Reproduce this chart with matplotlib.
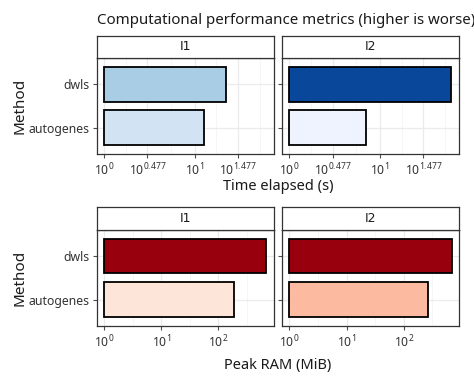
import matplotlib
matplotlib.use("Agg")
import matplotlib.pyplot as plt
import numpy as np

plt.rcParams['font.family'] = ['Noto Sans', 'DejaVu Sans']
plt.rcParams['mathtext.fontset'] = 'custom'
plt.rcParams['mathtext.rm'] = 'Noto Sans'
plt.rcParams['mathtext.it'] = 'Noto Sans'
plt.rcParams['mathtext.default'] = 'regular'

methods = ["autogenes", "dwls"]
facets = ["I1", "I2"]
time_s = {"I1": [12.6, 22.0], "I2": [7.0, 61.0]}
ram_mib = {"I1": [186.0, 690.0], "I2": [260.0, 705.0]}
time_colors = {"I1": ["#d2e3f3", "#a8cde4"], "I2": ["#eff3ff", "#08479a"]}
ram_colors = {"I1": ["#fee5d9", "#99000d"], "I2": ["#fcbba1", "#99000d"]}
time_ticks = [1, 3, 10, 30]
time_labels = [r"$10^{0}$", r"$10^{0.477}$", r"$10^{1}$", r"$10^{1.477}$"]
ram_ticks = [1, 10, 100]
ram_labels = [r"$10^{0}$", r"$10^{1}$", r"$10^{2}$"]

W, H = 474, 379
fig = plt.figure(figsize=(W / 100, H / 100), dpi=100)

def px(x0, y0, x1, y1):
    return [x0 / W, 1 - y1 / H, (x1 - x0) / W, (y1 - y0) / H]

panel_x = [(96.7, 273.7), (281.7, 459.3)]
rows = [
    dict(strip=(35.7, 58.0), panel=(58.0, 153.7), data=time_s, colors=time_colors,
         ticks=time_ticks, labels=time_labels, xlim=(-0.084, 1.872), xlabel="Time elapsed (s)", xly=186),
    dict(strip=(207.3, 230.0), panel=(230.0, 325.7), data=ram_mib, colors=ram_colors,
         ticks=ram_ticks, labels=ram_labels, xlim=(-0.133, 2.97), xlabel="Peak RAM (MiB)", xly=366),
]

edge = "#333333"
for r in rows:
    for j, f in enumerate(facets):
        x0, x1 = panel_x[j]
        ax = fig.add_axes(px(x0, r["panel"][0], x1, r["panel"][1]))
        ax.set_xscale("log")
        ax.set_xlim(10 ** r["xlim"][0], 10 ** r["xlim"][1])
        ax.set_ylim(0.4, 2.6)
        ypos = np.arange(1, len(methods) + 1)
        vals = np.array(r["data"][f])
        ax.barh(ypos, vals - 1, left=1, height=0.8, color=r["colors"][f],
                edgecolor="black", linewidth=1.3, zorder=3)
        lt = np.log10(r["ticks"])
        for t in lt:
            ax.axvline(10 ** t, color="#ebebeb", lw=0.9, zorder=0)
        mids = list((lt[:-1] + lt[1:]) / 2) + [lt[-1] + (lt[-1] - lt[-2]) / 2]
        for m in mids:
            if m < r["xlim"][1]:
                ax.axvline(10 ** m, color="#f3f3f3", lw=0.5, zorder=0)
        for y in ypos:
            ax.axhline(y, color="#ebebeb", lw=0.9, zorder=0)
        ax.set_xticks(r["ticks"])
        ax.set_xticklabels(r["labels"])
        ax.xaxis.set_minor_locator(matplotlib.ticker.NullLocator())
        ax.set_yticks(ypos)
        if j == 0:
            ax.set_yticklabels(methods)
        else:
            ax.set_yticklabels([])
            ax.tick_params(axis="y", length=0)
        ax.tick_params(axis="both", labelsize=8.8, colors="#4d4d4d", length=3, width=0.8)
        ax.tick_params(axis="x", pad=3)
        ax.tick_params(axis="y", pad=2.5)
        ax.tick_params(axis="both", labelcolor="#333333")
        for s in ax.spines.values():
            s.set_color(edge)
            s.set_linewidth(0.9)
        sax = fig.add_axes(px(x0, r["strip"][0], x1, r["strip"][1]))
        sax.set_xticks([]); sax.set_yticks([])
        sax.set_facecolor("white")
        for s in sax.spines.values():
            s.set_color(edge)
            s.set_linewidth(0.9)
        sax.text(0.5, 0.5, f, ha="center", va="center", fontsize=9, color="#1a1a1a",
                 family="DejaVu Sans", transform=sax.transAxes)
    cy = (r["panel"][0] + r["panel"][1]) / 2
    fig.text(20 / W, 1 - cy / H, "Method", rotation=90, ha="center", va="center",
             fontsize=11, color="#1a1a1a")
    fig.text((96.7 + 459.3) / 2 / W, 1 - r["xly"] / H, r["xlabel"], ha="center", va="center",
             fontsize=10.5, color="#1a1a1a")

fig.text(96.7 / W, 1 - 20 / H, "Computational performance metrics (higher is worse)",
         ha="left", va="center", fontsize=10.8, color="#1a1a1a")

fig.savefig("out.png", dpi=100, facecolor="white")
